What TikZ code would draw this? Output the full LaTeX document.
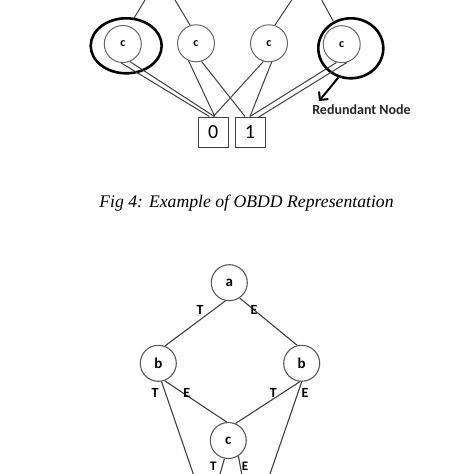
\documentclass[tikz,border=0pt]{standalone}
\usepackage{fontspec}
\setmainfont{Liberation Serif}
\newfontfamily\lblfont{Carlito}
\usetikzlibrary{shapes.geometric,arrows.meta}
\tikzset{
  vnode/.style={circle, draw=black!60, line width=1pt, minimum size=37pt, inner sep=0pt, font=\lblfont\bfseries\fontsize{12}{12}\selectfont},
  bnode/.style={circle, draw=black!65, line width=1.1pt, minimum size=36pt, inner sep=0pt, font=\lblfont\bfseries\fontsize{15}{15}\selectfont},
  term/.style={draw=black!75, line width=1pt, minimum width=30pt, minimum height=30pt, inner sep=0pt, font=\lblfont\fontsize{20}{20}\selectfont},
  redring/.style={ellipse, draw=black, line width=2.6pt, inner sep=0pt},
  edge/.style={draw=black!75, line width=1pt},
  bedge/.style={draw=black!75, line width=1.1pt},
  lbl/.style={font=\lblfont\bfseries\fontsize{14}{14}\selectfont, inner sep=0pt},
}
\begin{document}
\begin{tikzpicture}[x=1pt,y=-1pt]
\useasboundingbox (0,0) rectangle (474,474);
% ---- top OBDD ----
\node[vnode] (c1) at (122.8,44) {c};
\node[vnode] (c2) at (196,43.3) {c};
\node[vnode] (c3) at (269,43.3) {c};
\node[vnode] (c4) at (341.7,44.2) {c};
\node[redring, minimum width=71pt, minimum height=55pt] (e1) at (126.2,45.8) {};
\node[redring, minimum width=65pt, minimum height=60pt] (e4) at (350.8,48.3) {};
\node[term] (z) at (213.3,132) {0};
\node[term] (o) at (250,132) {1};
\coordinate (t1) at (145,0);
\coordinate (t2) at (175,0);
\coordinate (t3) at (291.7,0);
\coordinate (t4) at (321.7,0);
\draw[edge] (t1) -- (e1.74);
\draw[edge] (t2) -- (c2.108);
\draw[edge] (t3) -- (c3.72);
\draw[edge] (t4) -- (e4.123);
% circle 1 double edge
\draw[edge] (c1.265) -- ([xshift=-4pt]z.north);
\draw[edge] (c1.292) -- ([xshift=1pt]z.north);
% circle 2
\draw[edge] (c2.247) -- ([xshift=1.5pt]z.north);
\draw[edge] (c2.287) -- ([xshift=-5pt]o.north);
% circle 3
\draw[edge] (c3.253) -- (z.north);
\draw[edge] (c3.278) -- (o.north);
% circle 4 double edge
\draw[edge] (c4.254) -- (o.north);
\draw[edge] (c4.286) -- ([xshift=8pt,yshift=-1pt]o.north);
% redundant label
\node[font=\lblfont\bfseries\fontsize{14}{14}\selectfont, text=black!85, inner sep=0pt] (rn) at (361.5,110) {Redundant Node};
\coordinate (ah) at (319,101);
\draw[line width=2pt, -{Straight Barb[length=6pt,width=12pt]}] (e4.247) -- (ah);
% caption
\node[font=\itshape\fontsize{17.7}{18}\selectfont, inner sep=0pt] (cap) at (246.5,203) {Fig 4: Example of OBDD Representation};
% ---- bottom BDD ----
\node[bnode] (a) at (229.3,282.7) {a};
\node[bnode] (bl) at (158.3,363.3) {b};
\node[bnode] (br) at (301.7,363.3) {b};
\node[bnode] (c) at (228.3,440.5) {c};
\coordinate (d1) at (193.3,474);
\coordinate (d2) at (270,474);
\coordinate (d3) at (220,474);
\coordinate (d4) at (241.7,474);
\draw[bedge] (a.258) -- (bl.69);
\draw[bedge] (a.304) -- (br.104);
\draw[bedge] (bl.290) -- (c.95);
\draw[bedge] (br.264) -- (c.67);
\draw[bedge] (bl.280) -- (d1);
\draw[bedge] (br.270) -- (d2);
\draw[bedge] (c.258) -- (d3);
\draw[bedge] (c.303) -- (d4);
\node[lbl] (l1) at (200,310) {T};
\node[lbl] (l2) at (254,310) {E};
\node[lbl] (l3) at (155,393.3) {T};
\node[lbl] (l4) at (186.7,393.3) {E};
\node[lbl] (l5) at (273.3,393.3) {T};
\node[lbl] (l6) at (305,393.3) {E};
\node[lbl, font=\lblfont\bfseries\fontsize{13}{13}\selectfont] (l7) at (213.3,466) {T};
\node[lbl, font=\lblfont\bfseries\fontsize{13}{13}\selectfont] (l8) at (245,466) {E};
\end{tikzpicture}
\end{document}
